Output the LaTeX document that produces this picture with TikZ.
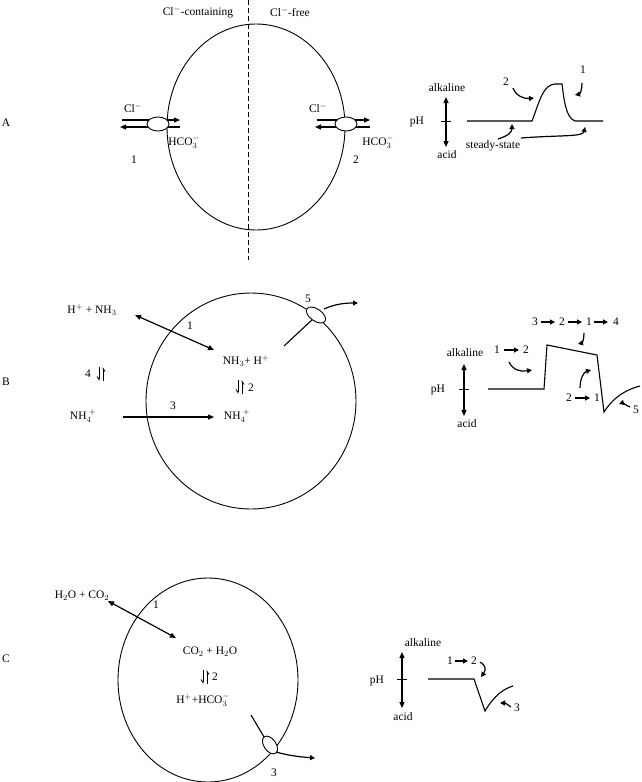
\documentclass[tikz,border=0pt]{standalone}
\usepackage{fontspec}
\setmainfont{Liberation Serif}
\usetikzlibrary{arrows.meta,shapes.geometric}
\begin{document}
\begin{tikzpicture}[x=1pt,y=-1pt,
  every node/.style={font=\fontsize{11.5}{13}\selectfont,inner sep=0pt},
  memb/.style={line width=0.9pt},
  arr/.style={line width=1.2pt,-{Triangle[length=6pt,width=5pt]}},
  darr/.style={line width=1.2pt,{Triangle[length=6pt,width=5pt]}-{Triangle[length=6pt,width=5pt]}},
  carr/.style={line width=1.2pt,-{Triangle[length=5pt,width=5pt]}},
  trace/.style={line width=1.1pt},
  harp/.style={line width=0.9pt,-{Straight Barb[right,length=3pt,width=4pt]}},
  tport/.style={draw,fill=white,line width=0.9pt,ellipse,minimum width=12pt,minimum height=7pt}]
\useasboundingbox (0,0) rectangle (641,782);
% ---------- A ----------
\node (lA) at (6,123) {A};
\draw[memb] (256,127) ellipse (89 and 103);
\draw[line width=1pt,dash pattern=on 5pt off 3pt] (248,0) -- (248,260);
\node (ca) at (198,12) {Cl$^{-}$-containing};
\node (cf) at (290,12) {Cl$^{-}$-free};
\draw[arr] (122,120) -- (180,120);
\draw[arr] (180,127) -- (120,127);
\node[tport,minimum width=22pt,minimum height=14pt] (t1) at (158,124) {};
\node (cl1) at (133,108) {Cl$^{-}$};
\node (hc1) at (184,142) {HCO$_3^{-}$};
\node (n1) at (134,160) {1};
\draw[arr] (317,120) -- (370,120);
\draw[arr] (370,127) -- (315,127);
\node[tport,minimum width=22pt,minimum height=14pt] (t2) at (346,124) {};
\node (cl2) at (318,108) {Cl$^{-}$};
\node (hc2) at (378,142) {HCO$_3^{-}$};
\node (n2) at (356,160) {2};
% graph A
\node (alkA) at (447,88) {alkaline};
\node (acidA) at (447,155) {acid};
\node (pHA) at (417,122) {pH};
\draw[darr] (446,97) -- (446,147);
\draw[line width=0.9pt] (441,121) -- (451,121);
\draw[trace] (467,121) -- (532,121) .. controls (540,100) and (543,85) .. (555,84) -- (562,84)
  .. controls (564,100) and (566,118) .. (575,121) -- (603,121);
\node (g2) at (506,82) {2};
\draw[carr] (513,88) .. controls (516,96) and (524,99) .. (534,98);
\node (g1) at (583,70) {1};
\draw[carr] (582,83) .. controls (582,90) and (580,94) .. (575,95);
\node (ss) at (493,146) {steady-state};
\draw[carr] (498,139) .. controls (508,136) and (512,132) .. (512,124);
\draw[carr] (521,138) .. controls (560,135) and (583,137) .. (585,127);
% ---------- B ----------
\node (lB) at (6,382) {B};
\draw[memb] (251,401) ellipse (105 and 108);
\node (hn) at (92,310) {H$^{+}$ + NH$_3$};
\node (nh3h) at (246,361) {NH$_3$+ H$^{+}$};
\node (nh4o) at (83,416) {NH$_4^{\;+}$};
\node (nh4i) at (237,416) {NH$_4^{\;+}$};
\draw[darr] (135,315) -- (214,350);
\node (b1) at (190,326) {1};
\draw[arr] (123,417) -- (214,417);
\node (b3) at (173,406) {3};
\draw[harp] (238,380) -- (238,394);
\draw[harp] (242,394) -- (242,380);
\node (b2) at (251,388) {2};
\draw[harp] (99,367) -- (99,381);
\draw[harp] (103,381) -- (103,367);
\node (b4) at (88,374) {4};
\draw[line width=1.1pt] (284,346) -- (314,318);
\node[tport,rotate=-35,minimum width=22pt,minimum height=12pt] (t5) at (316,315) {};
\draw[carr] (324,309) .. controls (335,304) and (345,303) .. (358,303);
\node (b5) at (308,299) {5};
% graph B
\node (alkB) at (465,353) {alkaline};
\node (acidB) at (467,424) {acid};
\node (pHB) at (438,390) {pH};
\draw[darr] (464,364) -- (464,416);
\draw[line width=0.9pt] (459,389) -- (469,389);
\draw[trace] (488,389) -- (544,389) -- (547,345) -- (597,355) -- (604,412)
  .. controls (614,396) and (628,389) .. (640,386);
\node (s12) at (497,350) {1};
\draw[carr] (504,350) -- (519,350);
\node at (526,350) {2};
\draw[carr] (509,362) .. controls (513,370) and (520,372) .. (532,370);
\node (s3214) at (535,322) {3};
\draw[carr] (541,322) -- (555,322);
\node at (562,322) {2};
\draw[carr] (568,322) -- (582,322);
\node at (589,322) {1};
\draw[carr] (594,322) -- (608,322);
\node at (616,322) {4};
\draw[carr] (584,333) .. controls (584,340) and (582,343) .. (578,344);
\node (s21) at (569,398) {2};
\draw[carr] (575,398) -- (590,398);
\node at (597,398) {1};
\draw[carr] (580,388) .. controls (580,378) and (584,372) .. (591,370);
\draw[carr] (630,407) .. controls (626,405) and (622,403) .. (619,404);
\node[anchor=west] (s5) at (633,410) {5};
% ---------- C ----------
\node (lC) at (6,659) {C};
\draw[memb] (208,680) ellipse (90 and 102);
\node (hc) at (82,596) {H$_2$O + CO$_2$};
\draw[darr] (108,601) -- (176,638);
\node (c1) at (156,605) {1};
\node (co2) at (210,652) {CO$_2$ + H$_2$O};
\draw[harp] (203,670) -- (203,684);
\draw[harp] (207,684) -- (207,670);
\node (c2) at (215,677) {2};
\node (hhc) at (203,700) {H$^{+}$+HCO$_3^{-}$};
\draw[line width=1.1pt] (251,715) -- (267,742);
\node[tport,rotate=-55,minimum width=20pt,minimum height=12pt] (t3) at (270,745) {};
\draw[carr] (276,752) .. controls (290,756) and (302,757) .. (315,758);
\node (c3) at (274,773) {3};
% graph C
\node (alkC) at (423,643) {alkaline};
\node (acidC) at (403,717) {acid};
\node (pHC) at (377,681) {pH};
\draw[darr] (402,652) -- (402,708);
\draw[line width=0.9pt] (397,679) -- (407,679);
\draw[trace] (428,679) -- (474,679) -- (485,711) .. controls (494,696) and (503,689) .. (513,686);
\node (k1) at (450,661) {1};
\draw[carr] (455,661) -- (468,661);
\node at (474,661) {2};
\draw[carr] (480,662) .. controls (486,665) and (486,670) .. (481,677);
\draw[carr] (511,707) .. controls (507,704) and (505,703) .. (500,703);
\node (k3) at (517,708) {3};
\end{tikzpicture}
\end{document}
